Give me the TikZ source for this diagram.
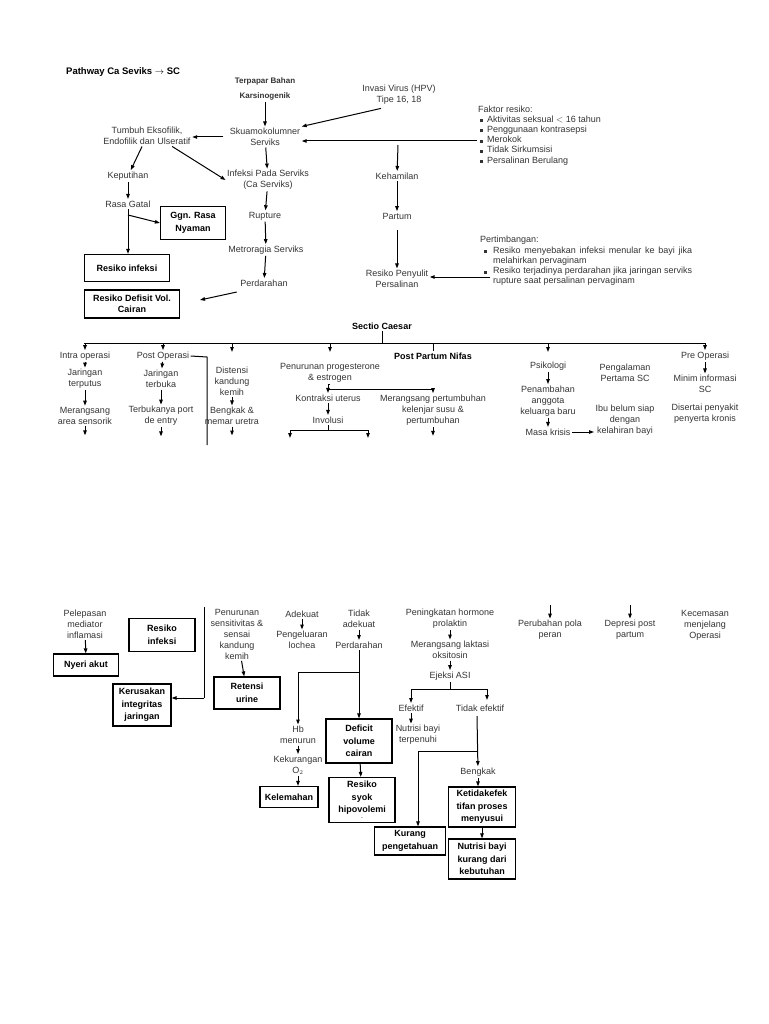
\documentclass[tikz,border=0pt]{standalone}
\usepackage{fontspec}
\setmainfont{Liberation Sans}
\usetikzlibrary{arrows.meta}
\tikzset{
  txt/.style={align=center, inner sep=1.5pt, font=\fontsize{9}{11}\selectfont, text=black!80},
  box/.style={draw, line width=1.2pt, align=center, inner sep=2pt, font=\fontsize{9}{12.5}\selectfont\bfseries},
  lst/.style={align=left, anchor=north west, inner sep=0pt, font=\fontsize{9}{10.3}\selectfont, text=black!80},
  arr/.style={-{Triangle[length=5pt,width=3.5pt]}, line width=1pt},
  ln/.style={line width=1pt}
}
\begin{document}
\begin{tikzpicture}[x=1pt,y=-1pt]
  \useasboundingbox (0,0) rectangle (768,1024);

  % Title and causes
  \node[anchor=west, inner sep=0pt, font=\fontsize{9.5}{11}\selectfont\bfseries] (title) at (66,72) {Pathway Ca Seviks $\rightarrow$ SC};
  \node[txt, font=\fontsize{8}{15}\selectfont\bfseries] (terpapar) at (265,89) {Terpapar Bahan\\Karsinogenik};
  \node[txt] (hpv) at (399,95) {Invasi Virus (HPV)\\Tipe 16, 18};
  \node[lst] (faktor) at (478,106) {Faktor resiko:\\[-1pt]
    \,\rule{3pt}{3pt}\enspace Aktivitas seksual $<$ 16 tahun\\
    \,\rule{3pt}{3pt}\enspace Penggunaan kontrasepsi\\
    \,\rule{3pt}{3pt}\enspace Merokok\\
    \,\rule{3pt}{3pt}\enspace Tidak Sirkumsisi\\
    \,\rule{3pt}{3pt}\enspace Persalinan Berulang};
  \coordinate (fk) at (477,141);

  % Main column
  \node[txt] (skuamo) at (265,137) {Skuamokolumner\\Serviks};
  \node[txt] (tumbuh) at (147,136) {Tumbuh Eksofilik,\\Endofilik dan Ulseratif};
  \node[txt] (infeksi) at (268,180) {Infeksi Pada Serviks\\(Ca Serviks)};
  \node[txt] (keputihan) at (128,176) {Keputihan};
  \node[txt] (gatal) at (128,204) {Rasa Gatal};
  \node[box, minimum width=65pt, minimum height=33pt] (nyaman) at (193,223) {Ggn. Rasa\\Nyaman};
  \node[txt] (rupture) at (265,216) {Rupture};
  \node[txt] (metro) at (266,250) {Metroragia Serviks};
  \node[txt] (perdarahan) at (264,283) {Perdarahan};
  \node[box, minimum width=85pt, minimum height=27pt] (rinfeksi) at (127,268) {Resiko infeksi};
  \node[box, minimum width=95pt, minimum height=28pt, font=\fontsize{9}{10.5}\selectfont\bfseries] (defisit) at (132,304) {Resiko Defisit Vol.\\Cairan};

  \draw[arr] (terpapar) -- (skuamo);
  \draw[arr] (hpv.south) ++(-18,2) coordinate (hpvs) -- (skuamo.north east);
  \draw[arr] (fk) -- (skuamo.east |- fk);
  \draw[arr] (skuamo.west) ++(-5,0) coordinate (sk) -- (tumbuh.east |- sk);
  \draw[arr] (tumbuh) -- (keputihan);
  \draw[arr] (tumbuh.south east) ++(-20,0) coordinate (tu) -- (infeksi.west);
  \draw[arr] (keputihan) -- (gatal);
  \draw[arr] (skuamo) -- (infeksi);
  \draw[arr] (infeksi) -- (rupture);
  \draw[arr] (rupture) -- (metro);
  \draw[arr] (metro) -- (perdarahan);
  \draw[ln] (gatal.south) -- ++(0,6) coordinate (g1);
  \draw[arr] (g1) -- (nyaman.west);
  \draw[arr] (g1) -- (rinfeksi.north -| g1);
  \draw[arr] (perdarahan.south west) ++(-2,4) coordinate (pw) -- (200,300);

  % Kehamilan branch
  \coordinate (keh0) at (398,145);
  \node[txt] (kehamilan) at (397,176) {Kehamilan};
  \node[txt] (partum) at (397,216) {Partum};
  \node[txt] (penyulit) at (397,279) {Resiko Penyulit\\Persalinan};
  \node[lst, text width=212pt, align=justify] (pertim) at (480,236) {Pertimbangan:\par
    \hangindent=13pt\hangafter=1\hspace*{4pt}\rule{3pt}{3pt}\hspace{6pt}Resiko menyebakan infeksi menular ke bayi jika melahirkan pervaginam\par
    \hangindent=13pt\hangafter=1\hspace*{4pt}\rule{3pt}{3pt}\hspace{6pt}Resiko terjadinya perdarahan jika jaringan serviks rupture saat persalinan pervaginam\par};
  \coordinate (pt) at (490,277);
  \draw[arr] (keh0) -- (kehamilan);
  \draw[arr] (kehamilan) -- (partum);
  \draw[arr] (partum) ++(0,14) coordinate (pa) -- (penyulit);
  \draw[arr] (pt) -- (penyulit.east |- pt);

  % Sectio Caesar
  \node[txt, font=\fontsize{9}{10}\selectfont\bfseries, text=black] (sc) at (382,326) {Sectio Caesar};
  \node[txt] (intra) at (85,356) {Intra operasi};
  \node[txt] (postop) at (163,356) {Post Operasi};
  \node[txt] (distensi) at (232,381) {Distensi\\kandung\\kemih};
  \node[txt] (penurunan) at (330,373) {Penurunan progesterone\\\& estrogen};
  \node[txt, font=\fontsize{9}{10}\selectfont\bfseries, text=black] (nifas) at (433,356) {Post Partum Nifas};
  \node[txt] (psikologi) at (548,366) {Psikologi};
  \node[txt] (pengalaman) at (625,373) {Pengalaman\\Pertama SC};
  \node[txt] (preop) at (705,356) {Pre Operasi};
  \draw[ln] (sc) -- (382,343);
  \draw[ln] (84,343) -- (705,343);
  \draw[ln] (nifas.north) -- (433,343);
  \foreach \n in {intra,postop,preop}
    \draw[arr] (\n.north |- 0,343) -- (\n.north);
  \foreach \n in {distensi,penurunan,psikologi}
    \draw[arr] (\n.north |- 0,343) -- ++(0,9);

  \node[txt] (terputus) at (85,379) {Jaringan\\terputus};
  \node[txt] (sensorik) at (85,416) {Merangsang\\area sensorik};
  \node[txt] (terbuka) at (161,379) {Jaringan\\terbuka};
  \node[txt] (port) at (161,416) {Terbukanya port\\de entry};
  \node[txt] (memar) at (232,416) {Bengkak \&\\memar uretra};
  \node[txt] (kontraksi) at (328,398) {Kontraksi uterus};
  \node[txt] (involusi) at (328,420) {Involusi};
  \node[txt] (kelenjar) at (433,410) {Merangsang pertumbuhan\\kelenjar susu \&\\pertumbuhan};
  \node[txt] (penambahan) at (548,401) {Penambahan\\anggota\\keluarga baru};
  \node[txt] (krisis) at (548,432) {Masa krisis};
  \node[txt] (belum) at (625,420) {Ibu belum siap\\dengan\\kelahiran bayi};
  \node[txt] (minim) at (705,384) {Minim informasi\\SC};
  \node[txt] (penyerta) at (705,414) {Disertai penyakit\\penyerta kronis};
  \draw[arr] (intra) -- (terputus);
  \draw[arr] (terputus) -- (sensorik);
  \draw[arr] (postop) -- (terbuka);
  \draw[arr] (terbuka) -- (port);
  \draw[arr] (distensi) -- (memar);
  \draw[ln] (penurunan.south) -| (328,389) -- (433,389);
  \draw[arr] (328,389) -- (kontraksi);
  \draw[arr] (433,389) -- (kelenjar);
  \draw[arr] (kontraksi) -- (involusi);
  \draw[ln] (involusi) -- (328,430);
  \draw[ln] (290,430) -- (368,430);
  \draw[arr] (290,430) -- ++(0,8);
  \draw[arr] (368,430) -- ++(0,8);
  \draw[arr] (psikologi) -- (penambahan);
  \draw[arr] (penambahan) -- (krisis);
  \draw[arr] (krisis) -- (krisis -| belum.west);
  \draw[arr] (preop) -- (minim);
  \foreach \n in {sensorik,port,memar,kelenjar}
    \draw[arr] (\n.south) -- ++(0,9);
  \draw[ln] (postop.east) -- (207,357) -- (207,445);

  % Lower part
  \node[txt] (mediator) at (85,624) {Pelepasan\\mediator\\inflamasi};
  \node[box, minimum width=65pt, minimum height=22pt] (nyeri) at (86,665) {Nyeri akut};
  \node[box, minimum width=66pt, minimum height=33pt] (rinf2) at (162,635) {Resiko\\infeksi};
  \node[box, minimum width=58pt, minimum height=42pt] (kerusakan) at (142,705) {Kerusakan\\integritas\\jaringan};
  \coordinate (po2) at (204,607);
  \node[txt] (sensitiv) at (237,634) {Penurunan\\sensitivitas \&\\sensai\\kandung\\kemih};
  \node[box, minimum width=66pt, minimum height=32pt] (retensi) at (247,693) {Retensi\\urine};
  \node[txt] (adekuat) at (302,614) {Adekuat};
  \node[txt] (lochea) at (302,640) {Pengeluaran\\lochea};
  \node[txt] (tidak) at (359,619) {Tidak\\adekuat};
  \node[txt] (perd2) at (359,645) {Perdarahan};
  \node[box, minimum width=66pt, minimum height=44pt] (deficit) at (359,741) {Deficit\\volume\\cairan};
  \node[txt] (hb) at (298,735) {Hb\\menurun};
  \node[txt] (kurangO) at (298,765) {Kekurangan\\O$_2$};
  \node[box, minimum width=58pt, minimum height=21pt] (lemah) at (289,797) {Kelemahan};
  \node[box, minimum width=66pt, minimum height=45pt] (syok) at (362,800) {Resiko\\syok\\hipovolemi\\[-6pt]{\mdseries\tiny -}};
  \draw[arr] (mediator) -- (nyeri);
  \draw[ln] (po2) -- (204,698);
  \draw[arr] (204,698) -- (kerusakan.east |- 0,698);
  \draw[arr] (sensitiv) -- (retensi);
  \draw[arr] (adekuat) -- (lochea);
  \draw[arr] (tidak) -- (perd2);
  \draw[arr] (perd2) -- (deficit);
  \draw[ln] (359,672) -- (298,672);
  \draw[arr] (298,672) -- (hb);
  \draw[arr] (hb) -- (kurangO);
  \draw[arr] (kurangO) -- (lemah.north -| kurangO);
  \draw[arr] (deficit) -- (syok);

  \node[txt] (prolaktin) at (450,619) {Peningkatan hormone\\prolaktin};
  \node[txt] (laktasi) at (450,650) {Merangsang laktasi\\oksitosin};
  \node[txt] (ejeksi) at (450,676) {Ejeksi ASI};
  \node[txt] (efektif) at (411,708) {Efektif};
  \node[txt] (tdkefektif) at (480,708) {Tidak efektif};
  \node[txt] (terpenuhi) at (418,735) {Nutrisi bayi\\terpenuhi};
  \node[txt] (bengkak) at (478,772) {Bengkak};
  \node[box, minimum width=67pt, minimum height=40pt] (ketidak) at (482,807) {Ketidakefek\\tifan proses\\menyusui};
  \node[box, minimum width=67pt, minimum height=40pt] (nutrisi) at (482,859) {Nutrisi bayi\\kurang dari\\kebutuhan};
  \node[box, minimum width=71pt, minimum height=28pt] (kurang) at (410,841) {Kurang\\pengetahuan};
  \draw[arr] (prolaktin) -- (laktasi);
  \draw[arr] (laktasi) -- (ejeksi);
  \draw[ln] (ejeksi) -- (450,689);
  \draw[ln] (411,689) -- (487,689);
  \draw[arr] (411,689) -- (efektif);
  \draw[arr] (487,689) -- (487,700);
  \draw[arr] (efektif) -- (terpenuhi.north -| efektif);
  \draw[arr] (477,716) -- (bengkak);
  \draw[ln] (477,751) -- (418,751);
  \draw[arr] (418,751) -- (kurang.north -| 418,0);
  \draw[arr] (bengkak) -- (ketidak.north -| bengkak);
  \draw[arr] (ketidak) -- (nutrisi);

  \node[txt] (pola) at (550,630) {Perubahan pola\\peran};
  \node[txt] (depresi) at (630,630) {Depresi post\\partum};
  \node[txt] (cemas) at (705,625) {Kecemasan\\menjelang\\Operasi};
  \draw[arr] (550,605) -- (pola);
  \draw[arr] (630,605) -- (depresi);
\end{tikzpicture}
\end{document}
